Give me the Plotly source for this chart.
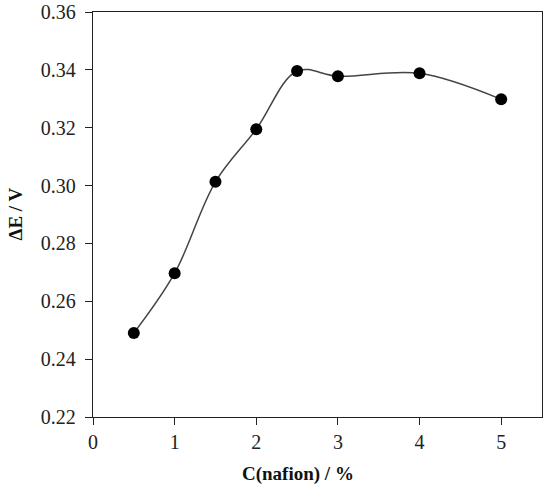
import plotly.graph_objects as go

# Data
nafion_pct = [0.5, 1.0, 1.5, 2.0, 2.5, 3.0, 4.0, 5.0]
delta_e_v = [0.249, 0.2697, 0.3013, 0.3195, 0.3396, 0.3378, 0.3388, 0.3298]

x_ticks = [0, 1, 2, 3, 4, 5]
y_ticks = [0.22, 0.24, 0.26, 0.28, 0.30, 0.32, 0.34, 0.36]

FONT = "Liberation Serif, Times New Roman, serif"

fig = go.Figure()
fig.add_trace(go.Scatter(
    x=nafion_pct, y=delta_e_v,
    mode="lines+markers",
    line=dict(color="#444444", width=1.5, shape="spline", smoothing=1.0),
    marker=dict(color="black", size=12, symbol="circle"),
    showlegend=False,
))

axis_common = dict(
    showgrid=False, zeroline=False,
    showline=True, linecolor="#222222", linewidth=1.4,
    mirror=True, automargin=False,
    ticks="outside", ticklen=7, tickwidth=1.3, tickcolor="#222222",
    tickfont=dict(family=FONT, size=20, color="#222222"),
)

fig.update_xaxes(range=[0, 5.5], tickmode="array", tickvals=x_ticks,
                 ticktext=[str(v) for v in x_ticks], **axis_common)
fig.update_yaxes(range=[0.22, 0.36], tickmode="array", tickvals=y_ticks,
                 ticktext=[f"{v:.2f}" for v in y_ticks],
                 ticklabelstandoff=5, **axis_common)

fig.add_annotation(
    text="<b>C(nafion) / %</b>", xref="paper", yref="paper",
    x=0.4566, y=0, xanchor="center", yanchor="middle", yshift=-57,
    showarrow=False, font=dict(family=FONT, size=19, color="#111111"),
)
fig.add_annotation(
    text="<b>ΔE / V</b>", xref="paper", yref="paper",
    x=0, y=0.5, xanchor="center", yanchor="middle", xshift=-78,
    textangle=-90,
    showarrow=False, font=dict(family=FONT, size=19, color="#111111"),
)

fig.update_layout(
    width=550, height=491,
    margin=dict(l=93, r=8, t=12, b=74, autoexpand=False),
    paper_bgcolor="white", plot_bgcolor="white",
    font=dict(family=FONT),
)

fig.write_html(
    "out.html",
    config={"displayModeBar": False},
    post_script="document.body.style.margin='0px';document.body.style.overflow='hidden';",
)
